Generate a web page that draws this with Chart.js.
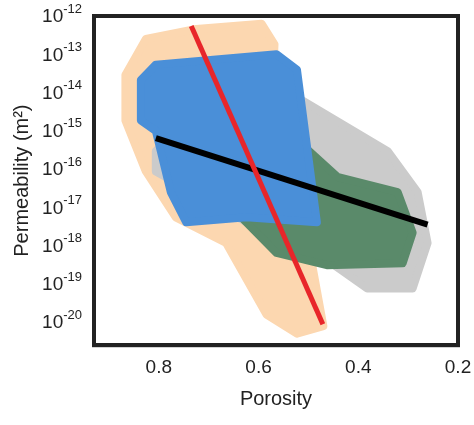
<!DOCTYPE html>
<html><head><meta charset="utf-8">
<script src="https://cdn.jsdelivr.net/npm/chart.js@4"></script>
<style>body{margin:0;background:#fff}#wrap{width:474px;height:425px}</style>
</head><body><div id="wrap"><canvas id="c"></canvas></div>
<script>
// outlines: [porosity, log10 permeability]
const orangeArea = [[0.867,-13.54],[0.826,-12.6],[0.725,-12.34],[0.594,-12.2],[0.568,-12.74],[0.574,-14.47],[0.523,-16.33],[0.47,-20.1],[0.523,-20.3],[0.584,-19.8],[0.665,-17.93],[0.766,-17.26],[0.826,-16.06],[0.867,-14.73]];
const grayArea = [[0.806,-15.53],[0.745,-14.73],[0.584,-14.07],[0.513,-14.2],[0.341,-15.53],[0.281,-16.6],[0.261,-17.93],[0.291,-19.12],[0.382,-19.12],[0.483,-18.19],[0.624,-17.39],[0.806,-16.06]];
const greenArea = [[0.685,-15.13],[0.543,-15.0],[0.442,-16.2],[0.321,-16.6],[0.291,-17.66],[0.311,-18.46],[0.463,-18.51],[0.564,-18.19],[0.644,-17.13]];
const blueArea = [[0.836,-13.67],[0.806,-13.27],[0.564,-13.0],[0.523,-13.4],[0.483,-17.39],[0.624,-17.26],[0.745,-17.39],[0.776,-16.6],[0.806,-15.0],[0.836,-14.73]];
const redLine = [[0.735,-12.26],[0.471,-20.05]];
const blackLine = [[0.806,-15.19],[0.261,-17.45]];
const xTicks = [0.2, 0.4, 0.6, 0.8];
const yExps = [-20,-19,-18,-17,-16,-15,-14,-13,-12];

const FONT = 'Liberation Sans';
const toPts = arr => arr.map(p => ({x: p[0], y: Math.pow(10, p[1])}));
const areas = [
  {pts: orangeArea, color: '#fcd7b0'},
  {pts: grayArea, color: '#cbcbcb'},
  {pts: greenArea, color: '#5a8a6a'},
  {pts: blueArea, color: '#4a8fd8'}
];

const areaPlugin = {
  id: 'areas',
  beforeDatasetsDraw(chart) {
    const {ctx, scales: {x, y}, chartArea} = chart;
    ctx.save();
    ctx.beginPath();
    ctx.rect(chartArea.left, chartArea.top, chartArea.width, chartArea.height);
    ctx.clip();
    areas.forEach(a => {
      ctx.beginPath();
      toPts(a.pts).forEach((p, i) => {
        const px = x.getPixelForValue(p.x), py = y.getPixelForValue(p.y);
        i ? ctx.lineTo(px, py) : ctx.moveTo(px, py);
      });
      ctx.closePath();
      ctx.fillStyle = a.color;
      ctx.strokeStyle = a.color;
      ctx.lineWidth = 8;
      ctx.lineJoin = 'round';
      ctx.fill();
      ctx.stroke();
    });
    ctx.restore();
  }
};

// y labels as "10" with a raised exponent
const yLabelPlugin = {
  id: 'ylabels',
  afterDraw(chart) {
    const {ctx, scales: {y}, chartArea} = chart;
    ctx.save();
    ctx.fillStyle = '#222';
    ctx.textBaseline = 'middle';
    yExps.forEach(e => {
      const py = y.getPixelForValue(Math.pow(10, e));
      const exp = String(e);
      ctx.font = '13px ' + FONT;
      const ew = ctx.measureText(exp).width;
      const right = chartArea.left - 12;
      ctx.textAlign = 'right';
      ctx.fillText(exp, right, py - 7);
      ctx.font = '19px ' + FONT;
      ctx.fillText('10', right - ew, py + 1);
    });
    ctx.restore();
  }
};

new Chart(document.getElementById('c'), {
  type: 'scatter',
  data: {datasets: [
    {data: toPts(redLine), showLine: true, borderColor: '#e8262a', borderWidth: 5, pointRadius: 0},
    {data: toPts(blackLine), showLine: true, borderColor: '#000', borderWidth: 6, pointRadius: 0}
  ]},
  options: {
    responsive: true, maintainAspectRatio: false, animation: false,
    layout: {padding: {top: 16, right: 16, left: 6, bottom: 10}},
    plugins: {legend: {display: false}, tooltip: {enabled: false}},
    scales: {
      x: {
        type: 'linear', reverse: true, min: 0.2, max: 0.93,
        afterBuildTicks: s => { s.ticks = xTicks.map(v => ({value: v})); },
        ticks: {callback: v => v.toFixed(1), color: '#222', font: {family: FONT, size: 19}, padding: 4},
        grid: {display: false, drawTicks: true, tickLength: 7, tickColor: '#222', tickWidth: 2},
        border: {color: '#222', width: 4},
        title: {display: true, text: 'Porosity', color: '#222', font: {family: FONT, size: 20}}
      },
      y: {
        type: 'logarithmic', min: Math.pow(10, -20.6), max: 1e-12,
        afterBuildTicks: s => { s.ticks = yExps.map(e => ({value: Math.pow(10, e)})); },
        afterFit: s => { s.width = 94 - 6; },
        ticks: {callback: () => '', font: {family: FONT, size: 19}},
        grid: {display: false, drawTicks: true, tickLength: 7, tickColor: '#222', tickWidth: 2},
        border: {color: '#222', width: 4},
        title: {display: true, text: 'Permeability (m²)', color: '#222', font: {family: FONT, size: 20}}
      }
    }
  },
  plugins: [areaPlugin, yLabelPlugin, {
    id: 'frame',
    afterDraw(chart) {
      const {ctx, chartArea: a} = chart;
      ctx.save(); ctx.strokeStyle = '#222'; ctx.lineWidth = 4;
      ctx.strokeRect(a.left, a.top, a.width, a.height); ctx.restore();
    }
  }]
});
</script></body></html>
